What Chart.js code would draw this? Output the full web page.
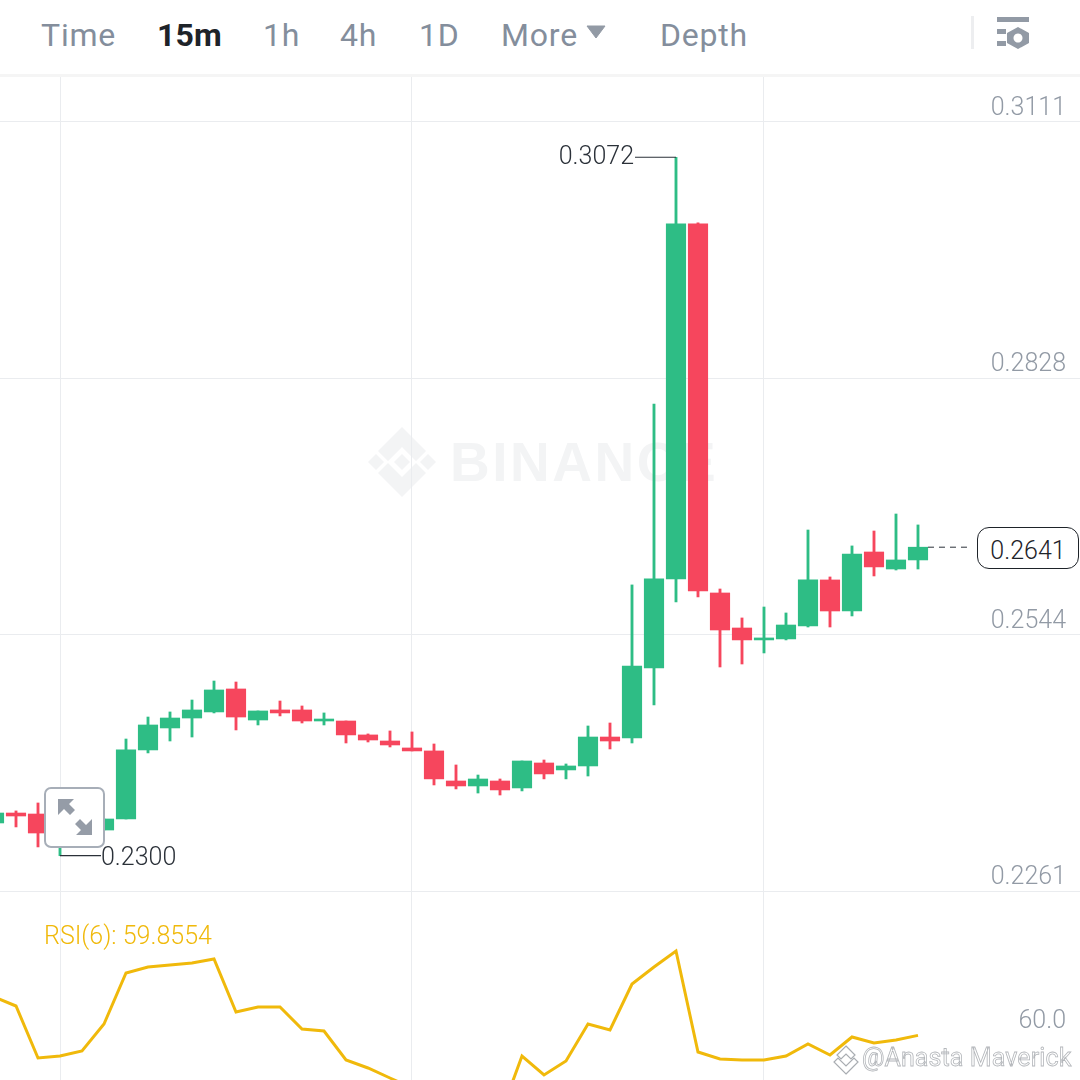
<!DOCTYPE html>
<html><head><meta charset="utf-8">
<script src="https://cdn.jsdelivr.net/npm/chart.js@4"></script>
<style>
html,body{margin:0;padding:0;background:#fff;width:1080px;height:1080px;overflow:hidden;font-family:Roboto,sans-serif}
#wm{position:absolute;left:0;top:0;z-index:0}
#wmtext{position:absolute;left:450px;top:429px;font:bold 55px "Liberation Sans",sans-serif;letter-spacing:2.5px;color:#F3F4F5;z-index:0;line-height:66px}
canvas{position:absolute;left:0;top:76px;z-index:1}
#head{position:absolute;left:0;top:0;width:1080px;height:74px;background:#fff;border-bottom:3px solid #F5F5F5;z-index:2}
#head span{position:absolute;top:15px;font:400 32px/40px Roboto,sans-serif;color:#848E9C;letter-spacing:.8px}
#head span.on{color:#1E2329;font-weight:700;letter-spacing:.2px}
#btn{position:absolute;left:44px;top:787px;width:57px;height:57px;border:2px solid #A7AEB8;border-radius:7px;background:#fff;z-index:3}
#last{position:absolute;left:977px;top:527px;width:100px;height:40px;border:1.5px solid #1E2329;border-radius:12px;background:#fff;z-index:3;font:300 25px/45px Roboto,sans-serif;color:#1E2329;text-align:center}
#tag{position:absolute;left:862px;top:1043px;font:400 25px/30px Roboto,sans-serif;color:#fff;-webkit-text-stroke:.8px #B4B7BB;letter-spacing:.1px;z-index:3;white-space:nowrap}
</style></head><body>
<svg id="wm" width="1080" height="1080">
 <g fill="#F3F4F5" transform="translate(402,462)">
  <path d="M0-34 L24-10 L14 0 L0-14 L-14 0 L-24-10Z" transform="translate(0,-1)"/>
  <path d="M0 34 L24 10 L14 0 L0 14 L-14 0 L-24 10Z" transform="translate(0,1)"/>
  <path d="M0-8L8 0L0 8L-8 0Z"/><path d="M-26-8L-18 0L-26 8L-34 0Z"/><path d="M26-8L34 0L26 8L18 0Z"/>
 </g>
</svg>
<div id="wmtext">BINANCE</div>
<canvas id="c" width="1080" height="1004"></canvas>
<div id="head">
 <span style="left:41px">Time</span><span class="on" style="left:157px">15m</span><span style="left:263px">1h</span><span style="left:340px">4h</span><span style="left:419px">1D</span><span style="left:501px">More</span><span style="left:660px">Depth</span>
 <svg width="1080" height="74" style="position:absolute;left:0;top:0">
  <path d="M587 26H605L596 38Z" fill="#929AA5" stroke="#929AA5" stroke-width="1" stroke-linejoin="round"/>
  <rect x="971" y="16" width="3" height="33" fill="#EDEEF0"/>
  <g fill="#929AA5"><rect x="997" y="17" width="32" height="5"/><rect x="997" y="29" width="9" height="5"/><rect x="997" y="41" width="9" height="5"/>
  <path fill-rule="evenodd" d="M1018 27L1029 33V43L1018 49L1007 43V33ZM1018 33.500a4.500 4.500 0 1 0 .01 0Z"/></g>
 </svg>
</div>
<div id="btn"><svg width="57" height="57" fill="#959CA7">
  <path d="M12 10H28L23 15L29 21L24 26L18 20L12 26Z"/><path d="M46 46H30L35 41L29 35L34 30L40 36L46 30Z"/>
</svg></div>
<div id="last">0.2641</div>
<svg style="position:absolute;left:0;top:0;z-index:3" width="1080" height="1080" fill="none" stroke="#A9ADB2" stroke-width="1.200" pointer-events="none">
 <g transform="translate(846,1060)"><path d="M0-14L9-5L5-1L0-6L-5-1L-9-5Z"/><path d="M0 14L12 2L8-2L0 6L-8-2L-12 2Z"/></g>
</svg>
<div id="tag">@Anasta Maverick</div>
<script>
const candleIndex=[0,1,2,3,4,5,6,7,8,9,10,11,12,13,14,15,16,17,18,19,20,21,22,23,24,25,26,27,28,29,30,31,32,33,34,35,36,37,38,39,40,41,42];
const opens=[.23362,.23472,.23461,.23119,.23196,.23284,.23406,.24169,.24412,.24522,.24589,.24843,.24500,.24611,.24611,.24489,.24489,.24335,.24268,.24191,.24158,.23826,.23771,.23826,.23749,.24025,.23948,.23992,.24312,.24301,.25075,.26059,.29983,.25904,.25517,.25385,.25396,.25539,.26048,.25705,.26357,.26169,.26269];
const closes=[.23472,.23439,.23251,.23340,.23395,.23406,.24169,.24445,.24522,.24611,.24832,.24533,.24600,.24578,.24489,.24511,.24335,.24279,.24224,.24158,.23849,.23771,.23848,.23727,.24047,.23904,.23992,.24312,.24268,.25097,.26059,.29983,.25926,.25495,.25385,.25407,.25550,.26048,.25705,.26335,.26192,.26269,.26410];
const highs=[.23483,.23495,.23583,.23373,.23439,.23406,.24290,.24533,.24589,.24721,.24931,.24920,.24600,.24710,.24655,.24578,.24489,.24346,.24379,.24368,.24235,.24003,.23892,.23848,.24047,.24058,.24014,.24434,.24467,.25993,.27993,.30720,.29994,.25948,.25628,.25749,.25683,.26600,.26081,.26424,.26589,.26777,.26656];
const lows=[.23362,.23318,.23097,.23000,.23152,.23284,.23406,.24136,.24268,.24312,.24578,.24390,.24445,.24545,.24467,.24445,.24246,.24257,.24202,.24158,.23782,.23738,.23693,.23671,.23716,.23849,.23849,.23881,.24180,.24246,.24666,.25805,.25860,.25086,.25119,.25241,.25385,.25528,.25528,.25650,.26092,.26158,.26169];
const rsiValues=[75.2,71.6,50.8,51.6,53.6,64.4,84.8,87.2,88,88.8,90.4,69.2,71.2,71.2,62.4,61.6,50,46.8,42.8,38.8,22,18,24,27.6,51.6,44,49.6,64.4,62,80.4,87.2,93.6,53.2,50.4,50,50,51.6,56.4,52,59.2,56.8,58,59.8554];
const priceTicks=[0.2261,0.2544,0.2828,0.3111];
const rsiTicks=[60];
const timeGrid=[3,19,35];
const highLabel={index:31,price:0.3072,text:'0.3072'};
const lowLabel={index:3,price:0.2300,text:'0.2300'};
const lastPrice=0.2641;
const rsiLabel='RSI(6): 59.8554';
const UP='#2EBD85',DOWN='#F6465D',GRID='#EAECEF',AXIS='#929AA5',INK='#2B3139';
const colors=candleIndex.map(i=>closes[i]>=opens[i]?UP:DOWN);
const noPad=s=>{s.paddingTop=0;s.paddingBottom=0;s.paddingLeft=0;s.paddingRight=0};
const notes={id:'notes',afterDatasetsDraw(ch){
  const c=ch.ctx,x=ch.scales.x,y=ch.scales.y;
  c.save();
  c.font='300 25px Roboto';c.textBaseline='middle';c.fillStyle=INK;c.strokeStyle=INK;c.lineWidth=1.2;
  let yy=y.getPixelForValue(highLabel.price),xx=x.getPixelForValue(highLabel.index);
  c.beginPath();c.moveTo(xx,yy);c.lineTo(xx-41,yy);c.stroke();
  c.textAlign='right';c.fillText(highLabel.text,xx-42,yy+1);
  yy=y.getPixelForValue(lowLabel.price);xx=x.getPixelForValue(lowLabel.index);
  c.beginPath();c.moveTo(xx,yy);c.lineTo(xx+41,yy);c.stroke();
  c.textAlign='left';c.fillText(lowLabel.text,xx+41,yy+3);
  yy=y.getPixelForValue(lastPrice);xx=x.getPixelForValue(candleIndex[42]);
  c.setLineDash([6,5]);c.lineWidth=1;c.beginPath();c.moveTo(xx+10,yy);c.lineTo(xx+49,yy);c.stroke();c.setLineDash([]);
  c.fillStyle='#F0B90B';c.textAlign='left';c.fillText(rsiLabel,44,862);
  c.restore();
}};
new Chart(document.getElementById('c'),{
  type:'bar',
  data:{datasets:[
    {label:'RSI',type:'line',xAxisID:'x',yAxisID:'rsi',order:0,data:candleIndex.map(i=>({x:i,y:rsiValues[i]})),borderColor:'#F0B90B',borderWidth:3,pointRadius:0,tension:0,borderJoinStyle:'miter'},
    {label:'body',xAxisID:'x',yAxisID:'y',order:1,grouped:false,data:candleIndex.map(i=>({x:i,y:[opens[i],closes[i]]})),backgroundColor:colors,barThickness:19.500,borderWidth:0},
    {label:'wick',xAxisID:'x',yAxisID:'y',order:2,grouped:false,data:candleIndex.map(i=>({x:i,y:[lows[i],highs[i]]})),backgroundColor:colors,barThickness:2.200,borderWidth:0}
  ]},
  options:{
    responsive:false,animation:false,events:[],
    layout:{padding:0},
    plugins:{legend:{display:false},tooltip:{enabled:false}},
    scales:{
      x:{type:'linear',position:'bottom',min:0.2727,max:49.364,offset:false,
         grid:{color:GRID,drawTicks:false,lineWidth:1,offset:false},border:{display:false},
         ticks:{display:false},
         afterBuildTicks:s=>{s.ticks=timeGrid.map(v=>({value:v}))},
         afterFit:s=>{s.height=0;noPad(s)}},
      y:{type:'linear',position:'right',stack:'panes',stackWeight:815,min:0.2261,max:0.31618,offset:false,
         grid:{color:GRID,drawTicks:false,lineWidth:1},border:{display:false},
         afterBuildTicks:s=>{s.ticks=priceTicks.map(v=>({value:v}))},
         ticks:{mirror:true,padding:-14,labelOffset:-13,color:AXIS,font:{family:'Roboto',size:25,weight:'300'},autoSkip:false,maxRotation:0,callback:v=>Number(v).toFixed(4)},
         afterFit:s=>{s.width=0;noPad(s)}},
      rsi:{type:'linear',position:'right',stack:'panes',stackWeight:189,min:42,max:117.6,offset:false,
         grid:{display:false,drawTicks:false},border:{display:false},
         afterBuildTicks:s=>{s.ticks=rsiTicks.map(v=>({value:v}))},
         ticks:{mirror:true,padding:-14,labelOffset:-13,color:AXIS,font:{family:'Roboto',size:25,weight:'300'},autoSkip:false,maxRotation:0,callback:v=>Number(v).toFixed(1)},
         afterFit:s=>{s.width=0;noPad(s)}}
    }
  },
  plugins:[notes]
});
</script>
</body></html>
